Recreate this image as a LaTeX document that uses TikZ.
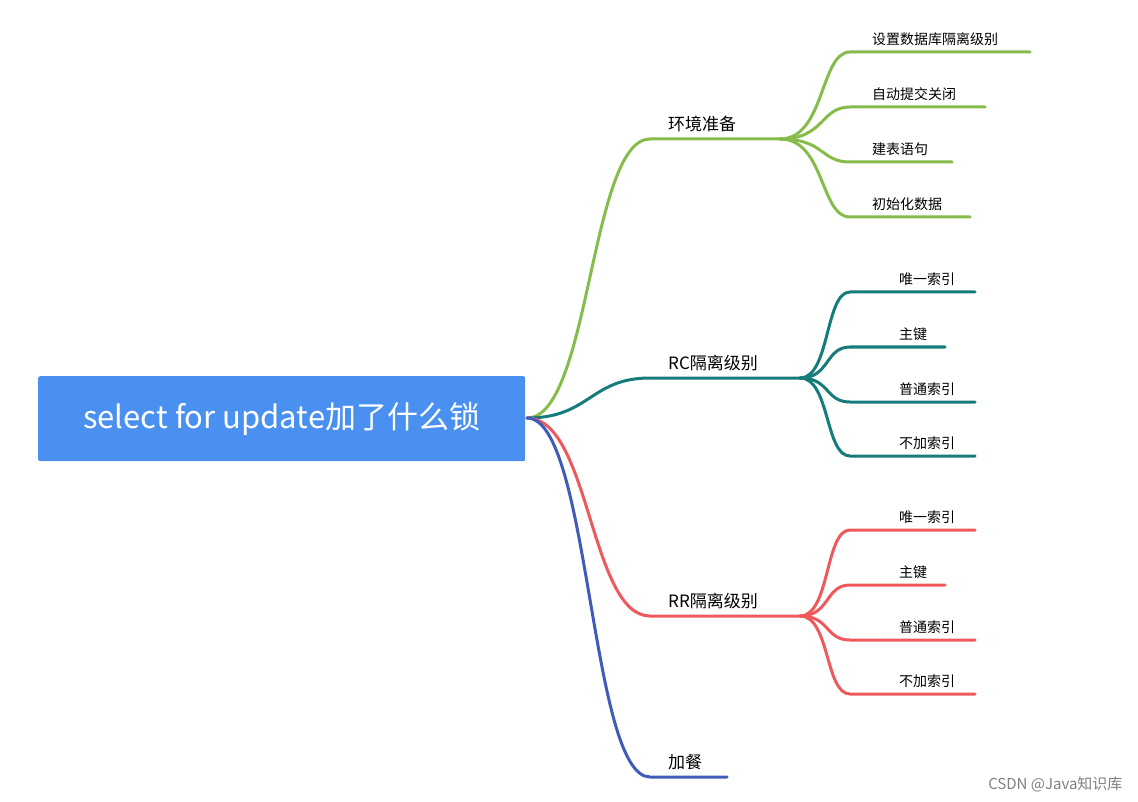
\documentclass[tikz,border=0pt]{standalone}
\usepackage{fontspec}
\setmainfont{Noto Sans CJK SC}
\begin{document}
\begin{tikzpicture}[x=1pt,y=-1pt,
  br/.style={line width=3pt,line cap=round},
  lbl/.style={anchor=south west,inner xsep=2pt,inner ysep=7pt,font=\fontsize{17}{17}\selectfont},
  sm/.style={anchor=south west,inner xsep=2pt,inner ysep=6pt,font=\fontsize{14}{14}\selectfont}]
\useasboundingbox (0,0) rectangle (1138,802);
\definecolor{cg}{HTML}{86BC4B}\definecolor{ct}{HTML}{167B7B}
\definecolor{cr}{HTML}{EE5A5C}\definecolor{cb}{HTML}{3F5CBA}\definecolor{cbox}{HTML}{4A90F0}
\node[fill=cbox,rounded corners=2pt,minimum width=487pt,minimum height=85pt,anchor=north west,text=white,font=\fontsize{31}{31}\selectfont] (root) at (38,376) {select for update加了什么锁};
\coordinate (r) at (527,418);
\foreach \y/\e/\c/\t/\n in {139/780/cg/环境准备/A,378/800/ct/RC隔离级别/B,616/800/cr/RR隔离级别/C,777/727/cb/加餐/D}{
  \coordinate (\n s) at (650,\y); \coordinate (\n e) at (\e,\y);
  \draw[br,\c] (r) .. controls (590,418) and (590,\y) .. (\n s) -- (\n e);
  \node[lbl] (\n t) at (666,\y) {\t};
}
\foreach \y/\e/\t [count=\i] in {52/1030/设置数据库隔离级别,107/985/自动提交关闭,162/952/建表语句,217/970/初始化数据}{
  \coordinate (A\i) at (850,\y); \coordinate (A\i e) at (\e,\y);
  \draw[br,cg] (Ae) .. controls (825,139) and (820,\y) .. (A\i) -- (A\i e);
  \node[sm] (At\i) at (870,\y) {\t};
}
\foreach \n/\c/\yy in {B/ct/378,C/cr/616}{
  \foreach \d/\e/\t [count=\i] in {-86/975/唯一索引,-31/945/主键,24/975/普通索引,78/975/不加索引}{
    \coordinate (\n\i) at (850,\yy+\d); \coordinate (\n\i e) at (\e,\yy+\d);
    \draw[br,\c] (\n e) .. controls (830,\yy) and (825,\yy+\d) .. (\n\i) -- (\n\i e);
    \node[sm] (\n t\i) at (897,\yy+\d) {\t};
  }
}
\node[anchor=south east,text=gray,font=\fontsize{15}{15}\selectfont] (wm) at (1126,796) {CSDN @Java知识库};
\end{tikzpicture}
\end{document}
